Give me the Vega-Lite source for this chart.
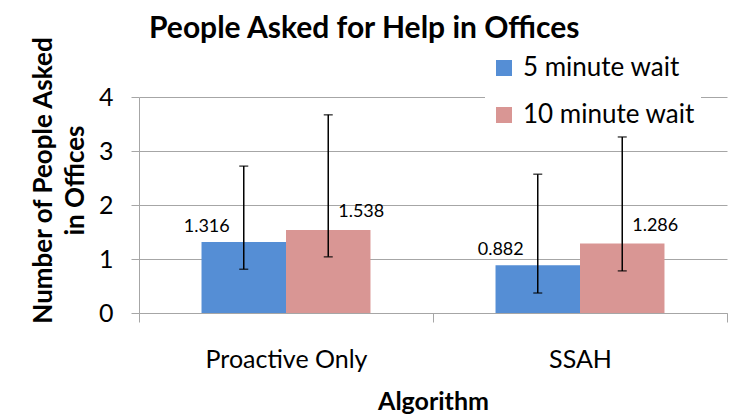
{
  "$schema": "https://vega.github.io/schema/vega-lite/v6.json",
  "autosize": "none",
  "padding": {"left": 139, "top": 97, "right": 25, "bottom": 106},
  "width": 588,
  "height": 216,
  "config": {
    "view": {"stroke": null},
    "font": "Lato",
    "axis": {"gridColor": "#a6a6a6", "domainColor": "#a6a6a6", "tickColor": "#a6a6a6"}
  },
  "title": {
    "text": "People Asked for Help in Offices",
    "font": "Lato",
    "fontSize": 30,
    "fontWeight": "bold",
    "anchor": "start",
    "frame": "group",
    "dx": 10,
    "dy": 16,
    "offset": 8,
    "color": "#000000"
  },
  "data": {
    "values": [
      {"algorithm": "Proactive Only", "wait": "5 minute wait", "mean": 1.316, "lo": 0.81, "hi": 2.72},
      {"algorithm": "Proactive Only", "wait": "10 minute wait", "mean": 1.538, "lo": 1.04, "hi": 3.67},
      {"algorithm": "SSAH", "wait": "5 minute wait", "mean": 0.882, "lo": 0.37, "hi": 2.57},
      {"algorithm": "SSAH", "wait": "10 minute wait", "mean": 1.286, "lo": 0.78, "hi": 3.26}
    ]
  },
  "encoding": {
    "x": {
      "field": "algorithm",
      "type": "nominal",
      "sort": ["Proactive Only", "SSAH"],
      "scale": {"paddingInner": 0, "paddingOuter": 0},
      "axis": {
        "title": "Algorithm",
        "titleFontSize": 25,
        "titleFontWeight": "bold",
        "titleColor": "#000000",
        "titlePadding": 17,
        "labelFontSize": 25,
        "labelColor": "#000000",
        "labelAngle": 0,
        "labelPadding": 25,
        "tickBand": "extent",
        "tickSize": 9,
        "grid": false
      }
    },
    "xOffset": {
      "field": "wait",
      "type": "nominal",
      "sort": ["5 minute wait", "10 minute wait"],
      "scale": {"paddingInner": 0, "paddingOuter": 0.74}
    }
  },
  "layer": [
    {
      "mark": {"type": "bar"},
      "encoding": {
        "y": {
          "field": "mean",
          "type": "quantitative",
          "scale": {"domain": [0, 4], "nice": false},
          "axis": {
            "values": [0, 1, 2, 3, 4],
            "format": "d",
            "title": ["Number of People Asked", "in Offices"],
            "titleFontSize": 26,
            "titleFontWeight": "bold",
            "titleColor": "#000000",
            "titleLineHeight": 32,
            "titlePadding": 10,
            "titleY": 83,
            "labelFontSize": 25,
            "labelColor": "#000000",
            "labelPadding": 18,
            "tickSize": 8,
            "grid": true
          }
        },
        "color": {
          "field": "wait",
          "type": "nominal",
          "sort": ["5 minute wait", "10 minute wait"],
          "scale": {"range": ["#558ed5", "#d99694"]},
          "legend": {
            "title": null,
            "orient": "none",
            "legendX": 346,
            "legendY": -48,
            "fillColor": "#ffffff",
            "padding": 6,
            "symbolType": "square",
            "symbolSize": 256,
            "symbolStrokeWidth": 0,
            "symbolOpacity": 1,
            "labelFontSize": 26,
            "labelColor": "#000000",
            "labelLimit": 400,
            "labelOffset": 6,
            "rowPadding": 21
          }
        }
      }
    },
    {
      "mark": {"type": "rule", "color": "#000000", "strokeWidth": 1.5},
      "encoding": {
        "y": {"field": "lo", "type": "quantitative"},
        "y2": {"field": "hi"}
      }
    },
    {
      "mark": {"type": "tick", "color": "#000000", "size": 9, "thickness": 1.5},
      "encoding": {"y": {"field": "lo", "type": "quantitative"}}
    },
    {
      "mark": {"type": "tick", "color": "#000000", "size": 9, "thickness": 1.5},
      "encoding": {"y": {"field": "hi", "type": "quantitative"}}
    },
    {
      "transform": [{"filter": "datum.wait === '5 minute wait'"}],
      "mark": {"type": "text", "align": "right", "baseline": "bottom", "dx": -14, "dy": -6, "fontSize": 18, "color": "#000000"},
      "encoding": {
        "y": {"field": "mean", "type": "quantitative"},
        "text": {"field": "mean", "type": "quantitative", "format": ".3f"}
      }
    },
    {
      "transform": [{"filter": "datum.wait === '10 minute wait'"}],
      "mark": {"type": "text", "align": "left", "baseline": "bottom", "dx": 10, "dy": -9, "fontSize": 18, "color": "#000000"},
      "encoding": {
        "y": {"field": "mean", "type": "quantitative"},
        "text": {"field": "mean", "type": "quantitative", "format": ".3f"}
      }
    }
  ]
}
